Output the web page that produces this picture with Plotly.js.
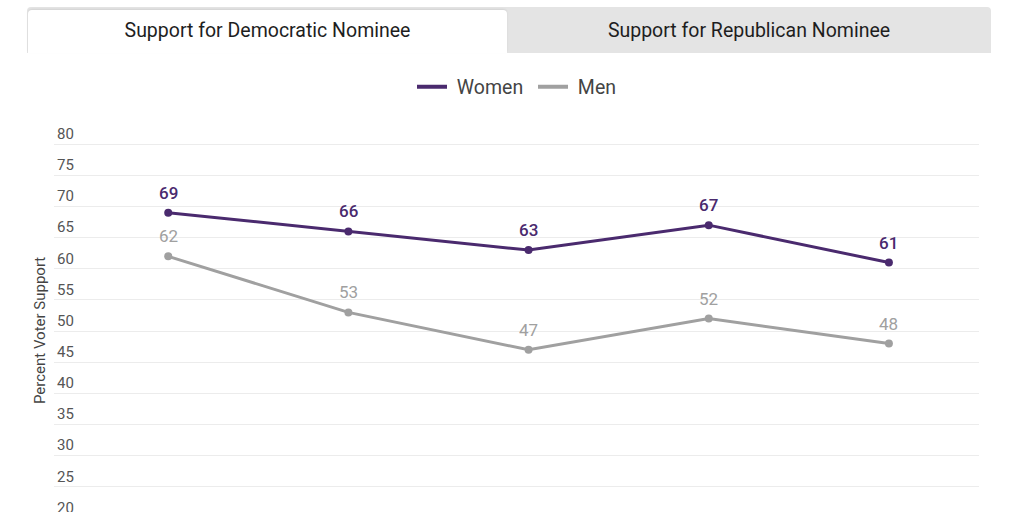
<!DOCTYPE html>
<html>
<head>
<meta charset="utf-8">
<script src="https://cdn.plot.ly/plotly-3.0.1.min.js"></script>
<style>
  html, body { margin: 0; padding: 0; background: #fff; overflow: hidden; width: 1024px; height: 512px; }
  #tabs {
    position: absolute; left: 27px; top: 7px; width: 964px; height: 46px;
    background: #e4e4e4; border-radius: 4px 4px 0 0; z-index: 5;
    font-family: Roboto, "Open Sans", sans-serif; font-size: 19.5px; color: #1e1e1e;
  }
  .tab { position: absolute; top: 0; height: 46px; line-height: 46px; text-align: center; }
  #tabDem { left: 1px; top: 3px; height: 43px; line-height: 42px; width: 479px; background: #fff; border-radius: 4px 4px 0 0; box-shadow: 0 -1px 2px rgba(0,0,0,0.08); }
  #tabRep { left: 480px; width: 484px; line-height: 47px; }
  #myDiv { position: absolute; left: 0; top: 0; width: 1024px; height: 600px; }
</style>
</head>
<body>
<div id="tabs">
  <div class="tab" id="tabDem">Support for Democratic Nominee</div>
  <div class="tab" id="tabRep">Support for Republican Nominee</div>
</div>
<div id="myDiv"></div>
<script>
// x categories sit below the visible frame
let years = ['2004', '2008', '2012', '2016', '2020'];
let women = [69, 66, 63, 67, 61];
let men = [62, 53, 47, 52, 48];
let yTicks = [20, 25, 30, 35, 40, 45, 50, 55, 60, 65, 70, 75, 80];

let purple = '#4a2a6e';
let grey = '#a0a0a0';

var traces = [
  {
    x: years, y: women, name: 'Women', type: 'scatter', mode: 'lines+markers',
    line: { color: purple, width: 3 },
    marker: { color: purple, size: 8 },
    showlegend: false, hoverinfo: 'skip'
  },
  {
    x: years, y: men, name: 'Men', type: 'scatter', mode: 'lines+markers',
    line: { color: grey, width: 3 },
    marker: { color: grey, size: 8 },
    showlegend: false, hoverinfo: 'skip'
  },
  // legend entries: plain thick lines
  { x: [null], y: [null], name: '\u00a0Women\u00a0', type: 'scatter', mode: 'lines', line: { color: purple, width: 4 } },
  { x: [null], y: [null], name: '\u00a0Men', type: 'scatter', mode: 'lines', line: { color: grey, width: 4 } }
];

// value labels above each point (x given as category index)
var annotations = [];
for (let i = 0; i < years.length; i++) {
  annotations.push({
    x: i, y: women[i], text: String(women[i]), showarrow: false,
    yshift: 20, yanchor: 'middle',
    font: { family: 'Roboto', size: 17, color: purple, weight: 500 }
  });
  annotations.push({
    x: i, y: men[i], text: String(men[i]), showarrow: false,
    yshift: 20, yanchor: 'middle',
    font: { family: 'Roboto', size: 17, color: grey }
  });
}
// y axis title, centred on the visible part of the axis
annotations.push({
  xref: 'paper', x: 0, xshift: -14, xanchor: 'center',
  yref: 'y', y: 50, yanchor: 'middle',
  text: 'Percent Voter Support', textangle: -90, showarrow: false,
  font: { family: 'Roboto', size: 15, color: '#444' }
});

var layout = {
  width: 1024,
  height: 600,
  margin: { l: 54, r: 45, t: 112.5, b: 82 },
  paper_bgcolor: '#fff',
  plot_bgcolor: '#fff',
  font: { family: 'Roboto', color: '#444' },
  showlegend: true,
  legend: {
    orientation: 'h', x: 0.5, xanchor: 'center',
    yref: 'container', y: 1 - 87 / 600, yanchor: 'middle',
    font: { family: 'Roboto', size: 19.5, color: '#444' }
  },
  annotations: annotations,
  xaxis: {
    type: 'category',
    range: [-0.634, 4.5],
    showgrid: false, zeroline: false, showline: false,
    showticklabels: false
  },
  yaxis: {
    range: [20, 85],
    tickvals: yTicks,
    ticklabelposition: 'inside top',
    tickfont: { family: 'Roboto', size: 15, color: '#555' },
    gridcolor: '#ececec', gridwidth: 1,
    zeroline: false, showline: false
  }
};

Plotly.newPlot('myDiv', traces, layout, { displayModeBar: false, staticPlot: true });
</script>
</body>
</html>
